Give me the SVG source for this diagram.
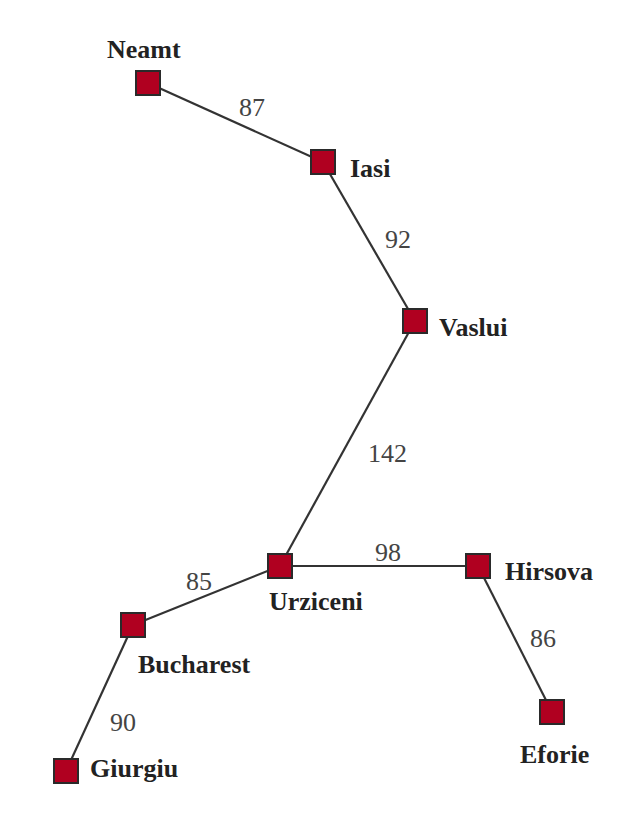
<svg xmlns="http://www.w3.org/2000/svg" width="635" height="823" viewBox="0 0 635 823">
<style>
.node rect{fill:#b00020;stroke:#2a2a2a;stroke-width:2}
.lbl{font-family:"Liberation Serif","Times New Roman",serif;font-weight:bold;font-size:26px;fill:#222}
.num{font-family:"Liberation Serif","Times New Roman",serif;font-size:26px;fill:#444}
.edges line{stroke:#333;stroke-width:2.2}
</style>
<rect width="635" height="823" fill="#fff"/>
<g id="connectors" class="edges">
<line x1="148" y1="83" x2="323" y2="162"/>
<line x1="323" y1="162" x2="415" y2="321"/>
<line x1="415" y1="321" x2="280" y2="566"/>
<line x1="280" y1="566" x2="478" y2="566"/>
<line x1="478" y1="566" x2="552" y2="712"/>
<line x1="280" y1="566" x2="133" y2="625"/>
<line x1="133" y1="625" x2="66" y2="771"/>
<text class="num" x="239" y="116">87</text>
<text class="num" x="385" y="248">92</text>
<text class="num" x="368" y="462">142</text>
<text class="num" x="375" y="561">98</text>
<text class="num" x="186" y="590">85</text>
<text class="num" x="530" y="647">86</text>
<text class="num" x="110" y="731">90</text>
</g>
<g id="Neamt" class="node"><rect x="136" y="71" width="24" height="24"/><text class="lbl" x="107" y="58">Neamt</text></g>
<g id="Iasi" class="node"><rect x="311" y="150" width="24" height="24"/><text class="lbl" x="350" y="177">Iasi</text></g>
<g id="Vaslui" class="node"><rect x="403" y="309" width="24" height="24"/><text class="lbl" x="439" y="336">Vaslui</text></g>
<g id="Urziceni" class="node"><rect x="268" y="554" width="24" height="24"/><text class="lbl" x="269" y="610">Urziceni</text></g>
<g id="Hirsova" class="node"><rect x="466" y="554" width="24" height="24"/><text class="lbl" x="505" y="580">Hirsova</text></g>
<g id="Eforie" class="node"><rect x="540" y="700" width="24" height="24"/><text class="lbl" x="520" y="763">Eforie</text></g>
<g id="Bucharest" class="node"><rect x="121" y="613" width="24" height="24"/><text class="lbl" x="138" y="673">Bucharest</text></g>
<g id="Giurgiu" class="node"><rect x="54" y="759" width="24" height="24"/><text class="lbl" x="90" y="777">Giurgiu</text></g>
</svg>
